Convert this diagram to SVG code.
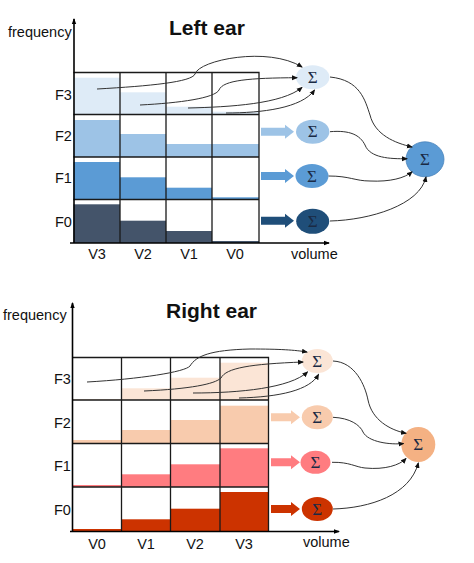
<svg xmlns="http://www.w3.org/2000/svg" width="474" height="563" viewBox="0 0 474 563">
<style>
text{font-family:"Liberation Sans",Arial,sans-serif;fill:#111}
.lbl{font-size:14.5px}
.ttl{font-size:21px;font-weight:bold}
.sig{font-family:"Liberation Serif","Times New Roman",serif;font-size:17px;fill:#1a2a44;text-anchor:middle}
.grid{stroke:#1a1a1a;stroke-width:1.3;fill:none}
.axis{stroke:#000;stroke-width:1.6;fill:none}
.con{stroke:#333;stroke-width:1;fill:none;marker-end:url(#ah)}
</style>
<defs>
<marker id="ah" markerWidth="6" markerHeight="6" refX="5" refY="3" orient="auto" markerUnits="userSpaceOnUse"><path d="M0,0.5 L6,3 L0,5.5 Z" fill="#111"/></marker>
<marker id="ax" markerWidth="6" markerHeight="6" refX="5" refY="3" orient="auto" markerUnits="userSpaceOnUse"><path d="M0,0.8 L6,3 L0,5.2 Z" fill="#000"/></marker>
</defs>
<rect width="474" height="563" fill="#fff"/>

<!-- LEFT EAR -->
<g id="left-bars">
<g fill="#deebf7">
<rect x="73.5" y="77.7" width="46.5" height="36.8"/>
<rect x="120" y="92.3" width="46" height="22.2"/>
<rect x="166" y="106.7" width="46" height="7.8"/>
<rect x="212" y="111.7" width="47" height="2.8"/>
</g>
<g fill="#9dc3e6">
<rect x="73.5" y="120" width="46.5" height="37"/>
<rect x="120" y="134" width="46" height="23"/>
<rect x="166" y="144" width="46" height="13"/>
<rect x="212" y="144" width="47" height="13"/>
</g>
<g fill="#5b9bd5">
<rect x="73.5" y="162" width="46.5" height="37.5"/>
<rect x="120" y="177.3" width="46" height="22.2"/>
<rect x="166" y="187.7" width="46" height="11.8"/>
<rect x="212" y="197.3" width="47" height="2.2"/>
</g>
<g fill="#44546a">
<rect x="73.5" y="204.3" width="46.5" height="38.7"/>
<rect x="120" y="220.7" width="46" height="22.3"/>
<rect x="166" y="231" width="46" height="12"/>
<rect x="212" y="241" width="47" height="2"/>
</g>
</g>
<g id="left-grid">
<path class="grid" d="M73.5,72.5 H259 V243 M73.5,114.5 H259 M73.5,157 H259 M73.5,199.5 H259 M120,72.5 V243 M166,72.5 V243 M212,72.5 V243"/>
<path class="axis" d="M74,243 V19" marker-end="url(#ax)"/>
<path class="axis" d="M70,243 H329" marker-end="url(#ax)"/>
</g>
<g id="left-labels">
<text class="lbl" x="8" y="37">frequency</text>
<text class="ttl" x="169" y="35">Left ear</text>
<text class="lbl" x="55" y="100">F3</text>
<text class="lbl" x="55" y="141">F2</text>
<text class="lbl" x="55" y="183">F1</text>
<text class="lbl" x="55" y="227">F0</text>
<text class="lbl" x="97" y="259" text-anchor="middle">V3</text>
<text class="lbl" x="143" y="259" text-anchor="middle">V2</text>
<text class="lbl" x="189" y="259" text-anchor="middle">V1</text>
<text class="lbl" x="235" y="259" text-anchor="middle">V0</text>
<text class="lbl" x="291" y="259">volume</text>
</g>
<g id="left-block-arrows">
<path d="M261,127.7 H285 V124.7 L294,131.7 L285,138.7 V135.7 H261 Z" fill="#9dc3e6"/>
<path d="M261,172 H285 V169 L294,176 L285,183 V180 H261 Z" fill="#5b9bd5"/>
<path d="M261,216.7 H285 V213.7 L294,220.7 L285,227.7 V224.7 H261 Z" fill="#1f4e79"/>
</g>
<g id="L-sum3"><ellipse cx="312.7" cy="77.3" rx="16.7" ry="12" fill="#deebf7"/><text class="sig" x="312.7" y="83">Σ</text></g>
<g id="L-sum2"><ellipse cx="312.7" cy="131.7" rx="16.7" ry="12" fill="#9dc3e6"/><text class="sig" x="312.7" y="137.4">Σ</text></g>
<g id="L-sum1"><ellipse cx="312" cy="176" rx="16.5" ry="12" fill="#5b9bd5"/><text class="sig" x="312" y="181.7">Σ</text></g>
<g id="L-sum0"><ellipse cx="312.7" cy="221.3" rx="16.5" ry="12.5" fill="#1f4e79"/><text class="sig" x="312.7" y="227">Σ</text></g>
<g id="L-total"><ellipse cx="425" cy="159.3" rx="19" ry="17.5" fill="#5b9bd5" stroke="#4a84bb" stroke-width="0.8"/><text class="sig" x="425" y="165">Σ</text></g>

<g id="left-connectors">
<path class="con" d="M97,89 C150,86 192,82 195,74 C199,60 268,46 302,67"/>
<path class="con" d="M140,105 C180,103 215,98 219,90 C223,80 250,78 297,77.7"/>
<path class="con" d="M188,108 C230,107 282,104 302,87.5"/>
<path class="con" d="M226,113 C262,113 302,108 314.5,90"/>
<path class="con" d="M330,77 C360,80 365,100 370,115 C375,135 395,143 412,147"/>
<path class="con" d="M330,131.7 C350,130 360,135 365,145 C370,158 390,159 407,158.7"/>
<path class="con" d="M328.5,176 C350,176 355,181 370,181 C390,182 405,178 412,171.8"/>
<path class="con" d="M330,221 C370,220 420,205 426,177"/>
</g>

<!-- RIGHT EAR -->
<g id="right-bars">
<g fill="#fbe5d6">
<rect x="72.5" y="399" width="49" height="1"/>
<rect x="121.5" y="388.3" width="49" height="11.7"/>
<rect x="170.5" y="377.7" width="49.5" height="22.3"/>
<rect x="220" y="362.7" width="48.5" height="37.3"/>
</g>
<g fill="#f8cbad">
<rect x="72.5" y="440" width="49" height="3.5"/>
<rect x="121.5" y="430" width="49" height="13.5"/>
<rect x="170.5" y="420" width="49.5" height="23.5"/>
<rect x="220" y="405.7" width="48.5" height="37.8"/>
</g>
<g fill="#ff7c80">
<rect x="72.5" y="485" width="49" height="2"/>
<rect x="121.5" y="474.3" width="49" height="12.7"/>
<rect x="170.5" y="464.3" width="49.5" height="22.7"/>
<rect x="220" y="448.3" width="48.5" height="38.7"/>
</g>
<g fill="#cc3300">
<rect x="72.5" y="529" width="49" height="2"/>
<rect x="121.5" y="519.3" width="49" height="11.7"/>
<rect x="170.5" y="508.7" width="49.5" height="22.3"/>
<rect x="220" y="492" width="48.5" height="39"/>
</g>
</g>
<g id="right-grid">
<path class="grid" d="M72.5,357.5 H268.5 V531 M72.5,400 H268.5 M72.5,443.5 H268.5 M72.5,487 H268.5 M121.5,357.5 V531 M170.5,357.5 V531 M220,357.5 V531"/>
<path class="axis" d="M72.5,531 V303" marker-end="url(#ax)"/>
<path class="axis" d="M70,531.5 H339" marker-end="url(#ax)"/>
</g>
<g id="right-labels">
<text class="lbl" x="3" y="320">frequency</text>
<text class="ttl" x="166" y="318">Right ear</text>
<text class="lbl" x="54" y="384">F3</text>
<text class="lbl" x="54" y="428">F2</text>
<text class="lbl" x="54" y="471">F1</text>
<text class="lbl" x="54" y="515">F0</text>
<text class="lbl" x="97" y="549" text-anchor="middle">V0</text>
<text class="lbl" x="146" y="549" text-anchor="middle">V1</text>
<text class="lbl" x="195" y="549" text-anchor="middle">V2</text>
<text class="lbl" x="244" y="549" text-anchor="middle">V3</text>
<text class="lbl" x="303" y="547">volume</text>
</g>
<g id="right-block-arrows">
<path d="M271,413.3 H291 V410.3 L300,417.3 L291,424.3 V421.3 H271 Z" fill="#f8cbad"/>
<path d="M271,458.3 H291 V455.3 L300,462.3 L291,469.3 V466.3 H271 Z" fill="#ff7c80"/>
<path d="M271,505 H291 V502 L300,509 L291,516 V513 H271 Z" fill="#cc3300"/>
</g>
<g id="R-sum3"><ellipse cx="317.3" cy="361" rx="15.5" ry="12" fill="#fbe5d6"/><text class="sig" x="317.3" y="366.7">Σ</text></g>
<g id="R-sum2"><ellipse cx="317.3" cy="417.3" rx="15.5" ry="12" fill="#f8cbad"/><text class="sig" x="317.3" y="423">Σ</text></g>
<g id="R-sum1"><ellipse cx="315.5" cy="462.3" rx="15" ry="11.5" fill="#ff7c80"/><text class="sig" x="315.5" y="468">Σ</text></g>
<g id="R-sum0"><ellipse cx="317.3" cy="509" rx="15.5" ry="12" fill="#cc3300"/><text class="sig" x="317.3" y="514.7">Σ</text></g>
<g id="R-total"><ellipse cx="418.3" cy="444.5" rx="17" ry="17.5" fill="#f4b183"/><text class="sig" x="418.3" y="450.2">Σ</text></g>

<g id="right-connectors">
<path class="con" d="M87,382 C140,379 185,372 190,366 C196,356 210,350 250,349 C280,349 295,350 307,352"/>
<path class="con" d="M144,391 C190,389 215,384 221,378 C226,368 250,364 303,362"/>
<path class="con" d="M193,393 C240,393 290,388 307.5,372"/>
<path class="con" d="M239,398 C280,397 310,390 318.5,374.5"/>
<path class="con" d="M333,361 C355,362 365,385 368,400 C372,420 390,430 406,433.3"/>
<path class="con" d="M333,417.3 C350,418 360,425 363,432 C368,442 390,445 403.5,443.5"/>
<path class="con" d="M332,462.3 C350,462 355,467 365,468 C385,470 400,465 406,458.5"/>
<path class="con" d="M333,509 C370,508 410,495 418.3,463"/>
</g>
</svg>
